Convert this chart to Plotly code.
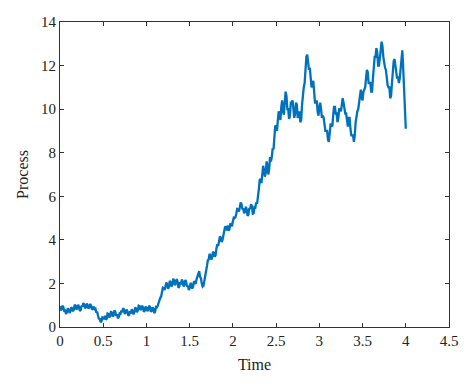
import plotly.graph_objects as go

step = 0.01
values = [
    0.95, 0.76, 0.82, 0.98, 0.90, 0.70, 0.74, 0.60, 0.68, 0.86,
    0.80, 0.64, 0.72, 0.90, 0.86, 0.72, 0.80, 1.02, 0.98, 0.80,
    0.86, 1.02, 0.92, 0.74, 0.78, 0.98, 0.94, 1.10, 1.04, 0.86,
    0.90, 1.08, 1.00, 0.84, 0.92, 1.06, 0.98, 0.80, 0.84, 0.94,
    0.82, 0.84, 0.66, 0.70, 0.52, 0.36, 0.40, 0.22, 0.26, 0.44,
    0.42, 0.36, 0.52, 0.34, 0.38, 0.62, 0.60, 0.44, 0.50, 0.72,
    0.66, 0.48, 0.54, 0.76, 0.70, 0.50, 0.58, 0.40, 0.46, 0.62,
    0.60, 0.76, 0.68, 0.86, 0.80, 0.60, 0.66, 0.80, 0.72, 0.52,
    0.56, 0.72, 0.62, 0.82, 0.74, 0.58, 0.68, 0.90, 0.84, 0.68,
    0.76, 0.98, 0.96, 0.78, 0.82, 0.98, 0.90, 0.70, 0.76, 0.94,
    0.88, 0.72, 0.80, 0.98, 0.92, 0.70, 0.74, 0.90, 0.84, 0.64,
    0.70, 0.92, 0.90, 0.96, 1.10, 1.30, 1.34, 1.40, 1.60, 1.80,
    1.78, 1.70, 1.86, 2.04, 1.96, 1.76, 1.84, 2.12, 2.06, 1.86,
    1.94, 2.22, 2.14, 1.92, 2.00, 2.20, 2.10, 1.80, 1.86, 2.06,
    1.96, 2.18, 2.08, 1.86, 1.94, 2.16, 2.06, 1.84, 1.90, 1.70,
    1.78, 2.02, 1.96, 1.76, 1.86, 2.10, 2.04, 1.98, 2.20, 2.30,
    2.48, 2.56, 2.30, 2.24, 2.00, 1.86, 1.90, 2.12, 2.20, 2.50,
    2.80, 3.06, 3.10, 3.36, 3.30, 3.10, 3.18, 3.46, 3.40, 3.22,
    3.30, 3.62, 3.80, 3.72, 3.94, 4.16, 4.10, 3.90, 4.00, 4.26,
    4.30, 4.62, 4.54, 4.44, 4.66, 4.42, 4.48, 4.76, 4.70, 4.62,
    4.86, 5.02, 5.00, 5.04, 5.22, 5.42, 5.40, 5.30, 5.50, 5.72,
    5.64, 5.40, 5.44, 5.22, 5.30, 5.52, 5.40, 5.10, 5.16, 5.46,
    5.42, 5.64, 5.54, 5.20, 5.22, 5.50, 5.48, 5.72, 5.66, 5.90,
    6.30, 6.75, 6.80, 6.60, 7.00, 7.40, 7.20, 6.90, 7.06, 7.60,
    7.40, 7.00, 7.28, 7.80, 7.60, 7.80, 8.20, 8.15, 8.70, 9.25,
    9.20, 9.00, 9.50, 9.90, 9.70, 9.50, 10.10, 10.40, 9.90, 9.75,
    10.30, 10.80, 10.60, 10.00, 10.00, 9.55, 9.70, 10.30, 10.30, 10.40,
    10.00, 9.60, 9.80, 10.30, 10.20, 9.60, 9.70, 9.90, 9.40, 9.50,
    10.20, 10.90, 11.00, 11.20, 11.90, 12.40, 12.50, 12.00, 11.80, 11.90,
    11.40, 11.00, 11.10, 11.30, 10.80, 10.30, 10.30, 10.40, 9.90, 9.70,
    10.10, 10.30, 10.00, 9.60, 9.70, 9.60, 9.30, 9.00, 9.00, 9.00,
    8.60, 8.50, 8.90, 9.30, 9.30, 9.20, 9.70, 10.10, 10.10, 9.80,
    9.80, 9.40, 9.60, 10.00, 10.00, 9.90, 10.20, 10.50, 10.30, 9.90,
    9.80, 9.80, 9.40, 9.20, 9.60, 9.60, 9.10, 8.80, 8.80, 8.80,
    8.50, 8.80, 9.40, 9.80, 9.90, 10.00, 10.40, 10.80, 10.90, 10.50,
    10.40, 10.80, 10.90, 11.00, 11.40, 11.80, 11.70, 11.20, 11.20, 11.20,
    10.80, 10.80, 11.40, 12.10, 12.40, 12.40, 12.80, 12.60, 12.00, 12.00,
    12.60, 12.70, 13.10, 12.90, 12.40, 12.10, 11.90, 11.80, 11.40, 11.10,
    11.00, 11.00, 10.50, 10.60, 11.20, 11.90, 12.20, 12.30, 11.90, 11.60,
    11.40, 11.50, 11.20, 11.40, 12.00, 12.50, 12.70, 11.90, 10.80, 9.90,
    9.10,
]
times = [round(i * step, 2) for i in range(len(values))]

x_ticks = [0, 0.5, 1, 1.5, 2, 2.5, 3, 3.5, 4, 4.5]
x_ticklabels = ["0", "0.5", "1", "1.5", "2", "2.5", "3", "3.5", "4", "4.5"]
y_ticks = [0, 2, 4, 6, 8, 10, 12, 14]

font_family = "Liberation Serif, Times New Roman, serif"

fig = go.Figure()
fig.add_trace(go.Scatter(
    x=times, y=values, mode="lines",
    line=dict(color="#0072BD", width=2.3),
    showlegend=False,
))

axis_common = dict(
    showline=True, linecolor="#333333", linewidth=1, mirror="ticks",
    ticks="inside", ticklen=4, tickcolor="#333333",
    showgrid=False, zeroline=False,
    tickfont=dict(family=font_family, size=15, color="#222222"),
)

fig.update_layout(
    width=474, height=387,
    margin=dict(l=60, r=25, t=22, b=60),
    paper_bgcolor="white", plot_bgcolor="white",
    font=dict(family=font_family, size=15, color="#222222"),
    xaxis=dict(range=[0, 4.5], tickvals=x_ticks, ticktext=x_ticklabels,
               title=dict(text="Time", standoff=10,
                          font=dict(family=font_family, size=16)),
               **axis_common),
    yaxis=dict(range=[0, 14], tickvals=y_ticks,
               title=dict(text="Process", standoff=8,
                          font=dict(family=font_family, size=16)),
               **axis_common),
)

fig.write_html("out.html")
